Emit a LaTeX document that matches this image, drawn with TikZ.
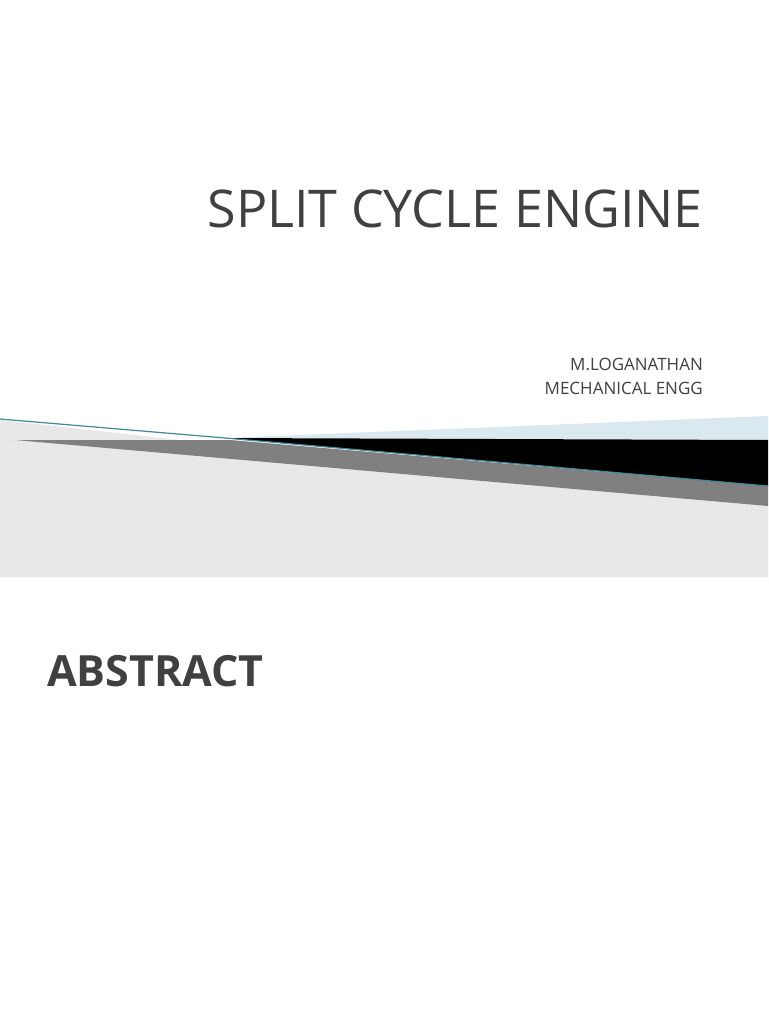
\documentclass[tikz,border=0pt]{standalone}
\usepackage{fontspec}
\setmainfont{Open Sans}
\usetikzlibrary{patterns}
\definecolor{txt}{HTML}{404040}
\definecolor{lblue}{HTML}{DAE9F0}
\definecolor{teal}{HTML}{3F8A99}
\definecolor{lgrey}{HTML}{E2E2E2}
\definecolor{dgrey}{HTML}{808080}
\begin{document}
\begin{tikzpicture}[x=1pt,y=-1pt,
  title/.style={text=txt,inner sep=0pt,font=\fontsize{52}{56}\selectfont},
  sub/.style={text=txt,inner sep=0pt,font=\fontsize{17}{19}\selectfont,anchor=east}]
\useasboundingbox (0,0) rectangle (768,1024);
\fill[white] (0,0) rectangle (768,1024);
% grey textured band
\fill[lgrey] (0,420) -- (768,506) -- (768,577) -- (0,577) -- cycle;
\fill[pattern=north east lines,pattern color=white!70!lgrey] (0,420) -- (768,506) -- (768,577) -- (0,577) -- cycle;
% dark shadow
\fill[dgrey] (15,440) -- (230,440) -- (768,486) -- (768,506) -- cycle;
% light blue wedge
\fill[lblue] (225,438) -- (768,416) -- (768,440) -- cycle;
% black wedge
\fill[black] (225,438) -- (768,440) -- (768,486) -- cycle;
% teal line
\draw[teal,line width=1.2pt] (0,419) -- (225,438) -- (768,486);
\node[title,anchor=base east] (t) at (703,228) {SPLIT CYCLE ENGINE};
\node[sub,anchor=base east] (a) at (703,370) {M.LOGANATHAN};
\node[sub,anchor=base east] (b) at (703,394) {MECHANICAL ENGG};
\node[title,anchor=base west,font=\fontsize{43}{48}\selectfont\bfseries] (ab) at (47,686) {ABSTRACT};
\end{tikzpicture}
\end{document}
